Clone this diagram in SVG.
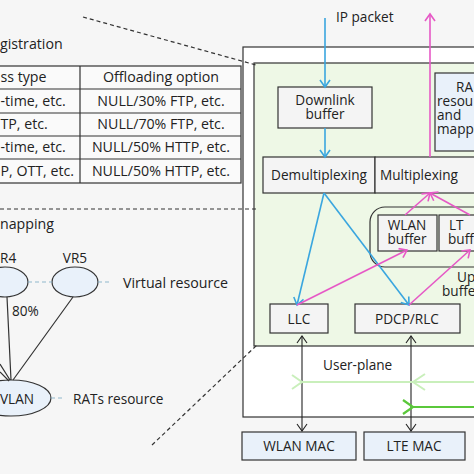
<svg xmlns="http://www.w3.org/2000/svg" width="474" height="474" viewBox="0 0 474 474">
<defs>
<style>
text{font-family:"Open Sans","Noto Sans","Liberation Sans",sans-serif;font-size:13.6px;fill:#222}
.t{font-size:14.2px}
.c{text-anchor:middle}
.box{fill:#f4f4f4;stroke:#333;stroke-width:1.2}
.bl{fill:#e9f1fa;stroke:#333;stroke-width:1.2}
.ln{stroke:#333;stroke-width:1.2;fill:none}
.dash{stroke:#333;stroke-width:1.2;stroke-dasharray:4 3;fill:none}
.dashb{stroke:#8fb8cc;stroke-width:1.2;stroke-dasharray:4 3;fill:none}
.blue{stroke:#3aa6df;stroke-width:1.6;fill:none}
.pink{stroke:#e659c6;stroke-width:1.6;fill:none}
.blk{stroke:#222;stroke-width:1.1;fill:none}
</style>
<marker id="ab" markerWidth="12" markerHeight="12" refX="9" refY="6" orient="auto" markerUnits="userSpaceOnUse"><path d="M2,1 L9,6 L2,11" fill="none" stroke="#3aa6df" stroke-width="1.6"/></marker>
<marker id="ap" markerWidth="12" markerHeight="12" refX="9" refY="6" orient="auto" markerUnits="userSpaceOnUse"><path d="M2,1 L9,6 L2,11" fill="none" stroke="#e659c6" stroke-width="1.6"/></marker>
<marker id="ak" markerWidth="12" markerHeight="12" refX="9" refY="6" orient="auto-start-reverse" markerUnits="userSpaceOnUse"><path d="M2,1 L9,6 L2,11" fill="none" stroke="#222" stroke-width="1.1"/></marker>
<marker id="ag1" markerWidth="16" markerHeight="16" refX="2" refY="8" orient="auto" markerUnits="userSpaceOnUse"><path d="M12,1 L2,8 L12,15" fill="none" stroke="#c9efbb" stroke-width="2"/></marker>
<marker id="ag2" markerWidth="16" markerHeight="16" refX="2" refY="8" orient="auto" markerUnits="userSpaceOnUse"><path d="M12,1 L2,8 L12,15" fill="none" stroke="#5ac83a" stroke-width="2.2"/></marker>
</defs>
<rect x="0" y="0" width="474" height="474" fill="#f6f6f6"/>

<!-- left: registration table -->
<g id="registration">
<text class="t" x="0" y="49">gistration</text>
<rect x="-2" y="66" width="243" height="117" fill="#fafafa" stroke="#333" stroke-width="1.2"/>
<path class="ln" d="M-2,89 H241 M-2,113 H241 M-2,136 H241 M-2,159 H241 M80,66 V183"/>
<text class="t" x="0.5" y="82">ss type</text>
<text class="t" x="0.5" y="106">-time, etc.</text>
<text class="t" x="0.5" y="129">TP, etc.</text>
<text class="t" x="0.5" y="152">-time, etc.</text>
<text class="t" x="0.5" y="176">P, OTT, etc.</text>
<text class="t c" x="161" y="82">Offloading option</text>
<text class="t c" x="161" y="106">NULL/30% FTP, etc.</text>
<text class="t c" x="161" y="129">NULL/70% FTP, etc.</text>
<text class="t c" x="161" y="152">NULL/50% HTTP, etc.</text>
<text class="t c" x="161" y="176">NULL/50% HTTP, etc.</text>
</g>

<!-- left: mapping -->
<g id="mapping">
<text class="t" x="0" y="229">napping</text>
</g>
<g id="vr4">
<ellipse cx="5" cy="282" rx="23" ry="15" fill="#e9f1fa" stroke="#333" stroke-width="1.2"/>
<text x="0" y="263">R4</text>
</g>
<g id="vr5">
<ellipse cx="75" cy="282" rx="23" ry="15" fill="#e9f1fa" stroke="#333" stroke-width="1.2"/>
<text class="c" x="75" y="263">VR5</text>
</g>
<g id="wlan-rat">
<ellipse cx="11" cy="398" rx="40" ry="18" fill="#e9f1fa" stroke="#333" stroke-width="1.2"/>
<text x="0" y="404">VLAN</text>
</g>
<g id="labels-left">
<text class="t" x="123" y="288">Virtual resource</text>
<text x="73" y="404">RATs resource</text>
<text x="12" y="316">80%</text>
</g>

<!-- right: outer frame -->
<g id="frame">
<rect x="243" y="47" width="240" height="370" fill="#ffffff" stroke="#333" stroke-width="1.2"/>
<rect x="254" y="63" width="230" height="283" fill="#eef8e6" stroke="#333" stroke-width="1.2"/>
<text x="323" y="370">User-plane</text>
</g>
<g id="downlink-buffer">
<rect class="box" x="278" y="87" width="94" height="41"/>
<text class="c" x="325" y="105">Downlink<tspan x="325" dy="14">buffer</tspan></text>
</g>
<g id="rat-mapping">
<rect class="bl" x="435" y="73" width="50" height="78"/>
<text x="456" y="92">RA<tspan x="437" dy="14">resou</tspan><tspan x="437" dy="14">and</tspan><tspan x="437" dy="14">mapp</tspan></text>
</g>
<g id="demultiplexing">
<rect class="box" x="263" y="157" width="112" height="36"/>
<text class="c" x="319" y="180">Demultiplexing</text>
</g>
<g id="multiplexing">
<rect class="box" x="375" y="157" width="110" height="36"/>
<text x="380" y="180">Multiplexing</text>
</g>
<g id="uplink-buffer">
<rect x="370" y="207" width="120" height="60" rx="15" fill="none" stroke="#333" stroke-width="1.2"/>
<text x="457" y="282">Up<tspan x="442" dy="14">buffe</tspan></text>
</g>
<g id="wlan-buffer">
<rect class="box" x="378" y="215" width="59" height="36"/>
<text class="c" x="407" y="230">WLAN<tspan x="407" dy="14">buffer</tspan></text>
</g>
<g id="lte-buffer">
<rect class="box" x="439" y="215" width="50" height="36"/>
<text x="449" y="230">LT<tspan x="448" dy="14">buff</tspan></text>
</g>
<g id="llc">
<rect class="box" x="270" y="304" width="58" height="29"/>
<text class="c" x="299" y="324">LLC</text>
</g>
<g id="pdcp-rlc">
<rect class="box" x="355" y="304" width="105" height="29"/>
<text class="c" x="407" y="324">PDCP/RLC</text>
</g>
<g id="wlan-mac">
<rect class="bl" x="242" y="432" width="114" height="28"/>
<text class="c" x="299" y="451">WLAN MAC</text>
</g>
<g id="lte-mac">
<rect class="bl" x="364" y="432" width="101" height="28"/>
<text class="c" x="414" y="451">LTE MAC</text>
</g>
<g id="ip-label">
<text x="336" y="22">IP packet</text>
</g>

<!-- connectors -->
<g id="connectors">
<path class="dash" d="M83,17 L256,65"/>
<path class="dash" d="M0,209 H258"/>
<path class="dash" d="M152,445 L257,345"/>
<path class="dashb" d="M28,282 H52 M98,282 H112 M51,398 H65"/>
<path class="ln" d="M7,297 L11,380 M73,297 L13,380 M0,364 L10,380 M0,372 L9,381"/>
<path class="blue" d="M325,18 V87" marker-end="url(#ab)"/>
<path class="blue" d="M325,128 V157" marker-end="url(#ab)"/>
<path class="blue" d="M324,193 L297,305" marker-end="url(#ab)"/>
<path class="blue" d="M324,193 L409,305" marker-end="url(#ab)"/>
<path class="pink" d="M430,157 V14" marker-end="url(#ap)"/>
<path class="pink" d="M297,305 L407,250" marker-end="url(#ap)"/>
<path class="pink" d="M409,305 L470,250" marker-end="url(#ap)"/>
<path class="pink" d="M405,215 L430,193" marker-end="url(#ap)"/>
<path class="pink" d="M470,215 L430,193" marker-end="url(#ap)"/>
<path class="blk" d="M302,336 V431" marker-start="url(#ak)" marker-end="url(#ak)"/>
<path class="blk" d="M411,336 V431" marker-start="url(#ak)" marker-end="url(#ak)"/>
<path d="M480,382 H302" stroke="#c9efbb" stroke-width="2" fill="none" marker-end="url(#ag1)"/>
<path d="M425,374 L413,382 L425,390" stroke="#c9efbb" stroke-width="2" fill="none"/>
<path d="M480,407 H413" stroke="#5ac83a" stroke-width="2.2" fill="none" marker-end="url(#ag2)"/>
</g>
</svg>
